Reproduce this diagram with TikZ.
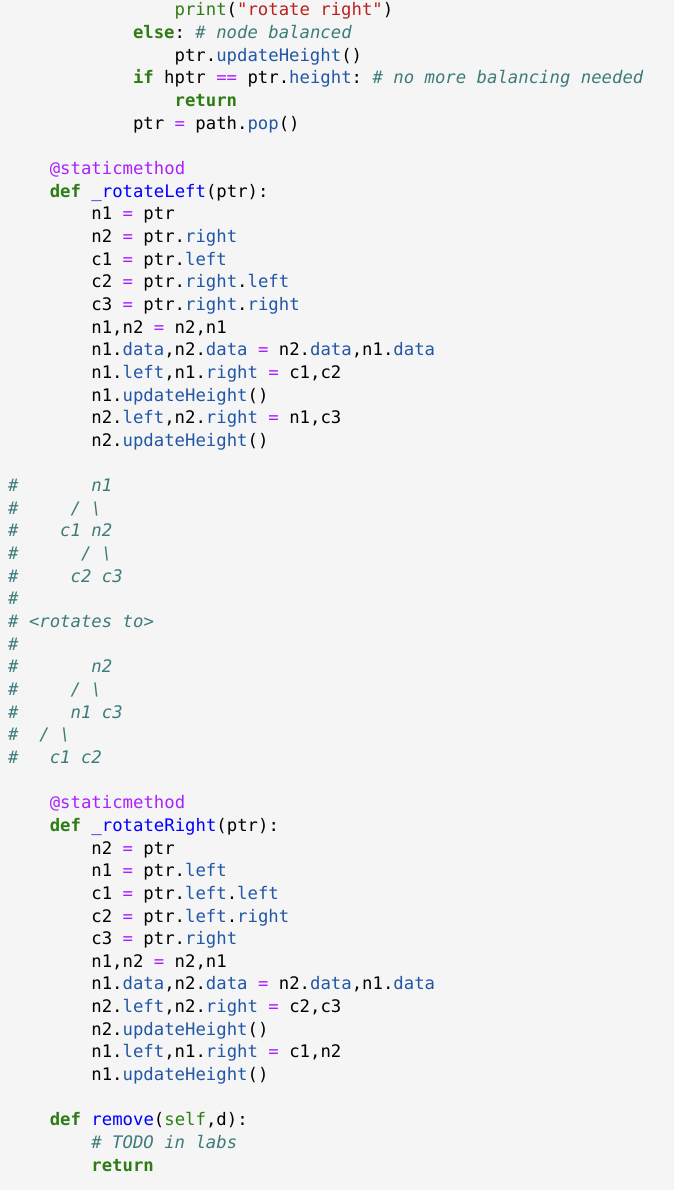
\documentclass[tikz,border=0pt]{standalone}
\usepackage{fontspec}
\setmonofont{DejaVu Sans Mono}
\definecolor{bg}{HTML}{F5F5F5}
\definecolor{kwc}{HTML}{2E7D14}
\definecolor{opc}{HTML}{AA22FF}
\definecolor{atc}{HTML}{2257A6}
\definecolor{fnc}{HTML}{0000FF}
\definecolor{stc}{HTML}{BA2121}
\definecolor{cmc}{HTML}{3D7B7B}
\newcommand{\kw}[1]{\textcolor{kwc}{\bfseries #1}}
\newcommand{\bi}[1]{\textcolor{kwc}{#1}}
\newcommand{\op}[1]{\textcolor{opc}{#1}}
\newcommand{\at}[1]{\textcolor{atc}{#1}}
\newcommand{\fn}[1]{\textcolor{fnc}{#1}}
\newcommand{\st}[1]{\textcolor{stc}{#1}}
\newcommand{\cm}[1]{\textcolor{cmc}{\itshape #1}}
\newcommand{\bsl}{\textbackslash}
\begin{document}
\begin{tikzpicture}[x=1pt,y=-1pt,
  code/.style={anchor=base west,inner sep=0pt,font=\ttfamily\fontsize{17.3}{20}\selectfont}]
\fill[bg] (0,0) rectangle (674,1190);
\useasboundingbox (0,0) rectangle (674,1190);
\newcommand{\Ln}[3]{\node[code] at ({8+10.4*#1},{16+22.65*#2}) {#3};}
\Ln{16}{0}{\bi{print}(\st{"rotate right"})}
\Ln{12}{1}{\kw{else}: \cm{\# node balanced}}
\Ln{16}{2}{ptr.\at{updateHeight}()}
\Ln{12}{3}{\kw{if} hptr \op{==} ptr.\at{height}: \cm{\# no more balancing needed}}
\Ln{16}{4}{\kw{return}}
\Ln{12}{5}{ptr \op{=} path.\at{pop}()}
\Ln{4}{7}{\op{@staticmethod}}
\Ln{4}{8}{\kw{def} \fn{\_rotateLeft}(ptr):}
\Ln{8}{9}{n1 \op{=} ptr}
\Ln{8}{10}{n2 \op{=} ptr.\at{right}}
\Ln{8}{11}{c1 \op{=} ptr.\at{left}}
\Ln{8}{12}{c2 \op{=} ptr.\at{right}.\at{left}}
\Ln{8}{13}{c3 \op{=} ptr.\at{right}.\at{right}}
\Ln{8}{14}{n1,n2 \op{=} n2,n1}
\Ln{8}{15}{n1.\at{data},n2.\at{data} \op{=} n2.\at{data},n1.\at{data}}
\Ln{8}{16}{n1.\at{left},n1.\at{right} \op{=} c1,c2}
\Ln{8}{17}{n1.\at{updateHeight}()}
\Ln{8}{18}{n2.\at{left},n2.\at{right} \op{=} n1,c3}
\Ln{8}{19}{n2.\at{updateHeight}()}
\foreach \r in {21,...,33}{\Ln{0}{\r}{\cm{\#}}}
\Ln{8}{21}{\cm{n1}}
\Ln{6}{22}{\cm{/ \bsl}}
\Ln{5}{23}{\cm{c1 n2}}
\Ln{7}{24}{\cm{/ \bsl}}
\Ln{6}{25}{\cm{c2 c3}}
\Ln{2}{27}{\cm{<rotates to>}}
\Ln{8}{29}{\cm{n2}}
\Ln{6}{30}{\cm{/ \bsl}}
\Ln{6}{31}{\cm{n1 c3}}
\Ln{3}{32}{\cm{/ \bsl}}
\Ln{4}{33}{\cm{c1 c2}}
\Ln{4}{35}{\op{@staticmethod}}
\Ln{4}{36}{\kw{def} \fn{\_rotateRight}(ptr):}
\Ln{8}{37}{n2 \op{=} ptr}
\Ln{8}{38}{n1 \op{=} ptr.\at{left}}
\Ln{8}{39}{c1 \op{=} ptr.\at{left}.\at{left}}
\Ln{8}{40}{c2 \op{=} ptr.\at{left}.\at{right}}
\Ln{8}{41}{c3 \op{=} ptr.\at{right}}
\Ln{8}{42}{n1,n2 \op{=} n2,n1}
\Ln{8}{43}{n1.\at{data},n2.\at{data} \op{=} n2.\at{data},n1.\at{data}}
\Ln{8}{44}{n2.\at{left},n2.\at{right} \op{=} c2,c3}
\Ln{8}{45}{n2.\at{updateHeight}()}
\Ln{8}{46}{n1.\at{left},n1.\at{right} \op{=} c1,n2}
\Ln{8}{47}{n1.\at{updateHeight}()}
\Ln{4}{49}{\kw{def} \fn{remove}(\bi{self},d):}
\Ln{8}{50}{\cm{\# TODO in labs}}
\Ln{8}{51}{\kw{return}}
\end{tikzpicture}
\end{document}
